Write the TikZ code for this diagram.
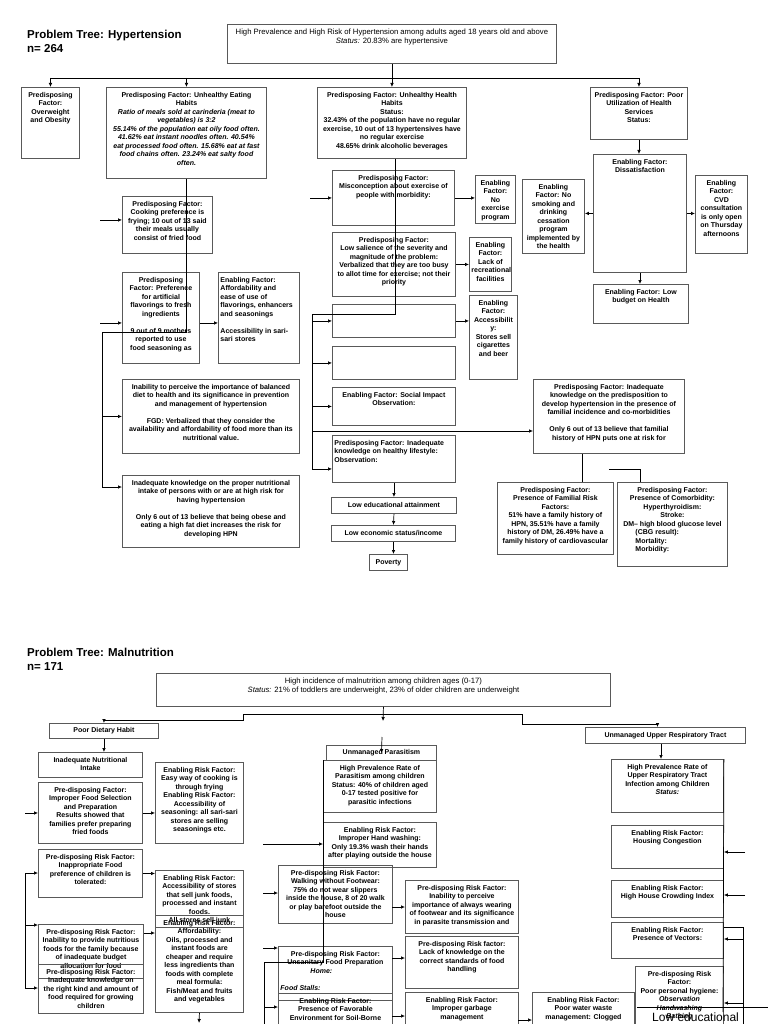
\documentclass[tikz,border=0pt]{standalone}
\usepackage{fontspec}
\setmainfont{Liberation Sans}
\usetikzlibrary{arrows.meta}
\hyphenpenalty=10000
\exhyphenpenalty=10000
\newcommand{\boxfont}{\fontsize{7}{8.5}\selectfont\bfseries}
\newcommand{\topfont}{\fontsize{7.7}{9.2}\selectfont\mdseries}
\newcommand{\boxtext}[3]{\parbox[c][\dimexpr#2pt-4pt\relax][t]{\dimexpr#1pt-4pt\relax}{\vspace*{2.5pt}\centering#3}}
\tikzset{
  pbox/.style={draw=black!65, line width=0.9pt, inner sep=2pt, anchor=north west, font=\boxfont},
  sbox/.style={draw=black!65, line width=0.9pt, inner sep=0pt, anchor=north west, font=\boxfont, align=center},
  conn/.style={line width=0.7pt},
  arr/.style={conn, -{Latex[length=4pt,width=3.6pt]}},
  heading/.style={anchor=north west, inner sep=0pt, align=left, font=\fontsize{11.5}{14}\selectfont\bfseries}
}
\begin{document}
\begin{tikzpicture}[x=1pt, y=-1pt]
    \fill[white] (0,0) rectangle (768,1024);
    \useasboundingbox (0,0) rectangle (768,1024);

    \node[heading] (ttlh) at (27,30) {Problem Tree: Hypertension\\n= 264};
    \node[pbox] (toph) at (227,24) {\boxtext{329}{39}{\topfont High Prevalence and High Risk of Hypertension among adults aged 18 years old and above\\\textit{Status:} 20.83\% are hypertensive}};
    \node[pbox] (overweight) at (21,87) {\boxtext{58}{71}{Predisposing\\Factor:\\Overweight\\and Obesity}};
    \node[pbox] (eating) at (106,87) {\boxtext{160}{91}{Predisposing Factor: Unhealthy Eating\\Habits\\\itshape Ratio of meals sold at carinderia (meat to\\vegetables) is 3:2\\55.14\% of the population eat oily food often.\\41.62\% eat instant noodles often. 40.54\%\\eat processed food often. 15.68\% eat at fast\\food chains often. 23.24\% eat salty food\\often.}};
    \node[pbox] (habits) at (317,87) {\boxtext{149}{71}{Predisposing Factor: Unhealthy Health\\Habits\\Status:\\32.43\% of the population have no regular\\exercise, 10 out of 13 hypertensives have\\no regular exercise\\48.65\% drink alcoholic beverages}};
    \node[pbox] (utilization) at (590,87) {\boxtext{97}{52}{Predisposing Factor: Poor\\Utilization of Health\\Services\\Status:}};
    \node[pbox] (dissatisfaction) at (593,154) {\boxtext{93}{118}{Enabling Factor:\\Dissatisfaction}};
    \node[pbox] (nosmoking) at (522,179) {\boxtext{62}{74}{Enabling\\Factor: No\\smoking and\\drinking\\cessation\\program\\implemented by\\the health}};
    \node[pbox] (cvd) at (695,175) {\boxtext{52}{78}{Enabling\\Factor:\\CVD\\consultation\\is only open\\on Thursday\\afternoons}};
    \node[pbox] (budget) at (593,284) {\boxtext{95}{39}{Enabling Factor: Low\\budget on Health}};
    \node[pbox] (cooking) at (122,196) {\boxtext{90}{57}{Predisposing Factor:\\Cooking preference is\\frying; 10 out of 13 said\\their meals usually\\consist of fried food}};
    \node[pbox] (flavor) at (122,272) {\boxtext{77}{91}{Predisposing\\Factor: Preference\\for artificial\\flavorings to fresh\\ingredients\\[8.5pt]9 out of 9 mothers\\reported to use\\food seasoning as}};
    \node[pbox] (afford) at (218,272) {\boxtext{81}{91}{\raggedright Enabling Factor:\\Affordability and\\ease of use of\\flavorings, enhancers\\and seasonings\\[8.5pt]Accessibility in sari-\\sari stores}};
    \node[pbox] (balanced) at (122,379) {\boxtext{177}{74}{Inability to perceive the importance of balanced\\diet to health and its significance in prevention\\and management of hypertension\\[8.5pt]FGD: Verbalized that they consider the\\availability and affordability of food more than its\\nutritional value.}};
    \node[pbox] (nutrition) at (122,475) {\boxtext{177}{72}{Inadequate knowledge on the proper nutritional\\intake of persons with or are at high risk for\\having hypertension\\[8.5pt]Only 6 out of 13 believe that being obese and\\eating a high fat diet increases the risk for\\developing HPN}};
    \node[pbox] (misconc) at (332,170) {\boxtext{122}{55}{Predisposing Factor:\\Misconception about exercise of\\people with morbidity:}};
    \node[pbox] (noexercise) at (475,175) {\boxtext{40}{48}{Enabling\\Factor:\\No\\exercise\\program}};
    \node[pbox] (salience) at (332,232) {\boxtext{123}{64}{Predisposing Factor:\\Low salience of the severity and\\magnitude of the problem:\\Verbalized that they are too busy\\to allot time for exercise; not their\\priority}};
    \node[pbox] (recreation) at (469,237) {\boxtext{42}{54}{Enabling\\Factor:\\Lack of\\recreational\\facilities}};
    \node[sbox, minimum width=123pt, minimum height=33pt] (blanka) at (332,304) {};
    \node[pbox] (accessibility) at (469,295) {\boxtext{48}{84}{Enabling\\Factor:\\Accessibilit\\y:\\Stores sell\\cigarettes\\and beer}};
    \node[sbox, minimum width=123pt, minimum height=33pt] (blankb) at (332,346) {};
    \node[pbox] (social) at (332,387) {\boxtext{123}{38}{Enabling Factor: Social Impact\\Observation:}};
    \node[pbox] (lifestyle) at (332,435) {\boxtext{123}{47}{\raggedright Predisposing Factor: Inadequate\\knowledge on healthy lifestyle:\\Observation:}};
    \node[sbox, minimum width=125pt, minimum height=16pt] (education) at (331,497) {Low educational attainment};
    \node[sbox, minimum width=124pt, minimum height=16pt] (economic) at (331,525) {Low economic status/income};
    \node[sbox, minimum width=38pt, minimum height=16pt] (poverty) at (369,554) {Poverty};
    \node[pbox] (predisposition) at (533,379) {\boxtext{151}{74}{Predisposing Factor: Inadequate\\knowledge on the predisposition to\\develop hypertension in the presence of\\familial incidence and co-morbidities\\[8.5pt]Only 6 out of 13 believe that familial\\history of HPN puts one at risk for}};
    \node[pbox] (familial) at (497,482) {\boxtext{116}{72}{Predisposing Factor:\\Presence of Familial Risk\\Factors:\\51\% have a family history of\\HPN, 35.51\% have a family\\history of DM, 26.49\% have a\\family history of cardiovascular}};
    \node[pbox] (comorbidity) at (617,482) {\boxtext{110}{84}{Predisposing Factor:\\Presence of Comorbidity:\\Hyperthyroidism:\\Stroke:\\DM-- high blood glucose level\par\raggedright\leftskip=16pt (CBG result):\\Mortality:\\Morbidity:}};

    \coordinate (splith) at (391,78);
    \draw[arr] (toph.south) -- (habits.north);
    \draw[conn] (overweight.north |- splith) -- (utilization.north |- splith);
    \draw[arr] (overweight.north |- splith) -- (overweight.north);
    \draw[arr] (eating.north |- splith) -- (eating.north);
    \draw[arr] (utilization.north |- splith) -- (utilization.north);

    \coordinate (eatj) at (102,332);
    \draw[arr] (eating.south) |- (eatj) |- ([yshift=-12pt]nutrition.north west);
    \draw[arr] (eatj |- balanced.west) -- (balanced.west);
    \draw[arr] ([xshift=-22pt,yshift=5pt]cooking.west) -- ([yshift=5pt]cooking.west);
    \draw[arr] ([xshift=-22pt,yshift=-5pt]flavor.west) -- ([yshift=-5pt]flavor.west);
    \draw[arr] ([yshift=-5pt]flavor.east) -- ([yshift=-5pt]afford.west);

    \coordinate (habj) at (312,314);
    \coordinate (longh) at (312,431);
    \draw[arr] ([xshift=3pt]habits.south) |- (habj) |- ([yshift=-10pt]lifestyle.west);
    \draw[arr] (habj |- blanka.west) -- (blanka.west);
    \draw[arr] (habj |- blankb.west) -- (blankb.west);
    \draw[arr] (habj |- social.west) -- (social.west);
    \draw[arr] (longh) -- (longh -| predisposition.west);
    \draw[arr] ([xshift=-22pt]misconc.west) -- (misconc.west);
    \draw[arr] (misconc.east) -- (misconc.east -| noexercise.west);
    \draw[arr] (salience.east) -- (salience.east -| recreation.west);
    \draw[arr] (blanka.east) -- (blanka.east -| accessibility.west);
    \draw[arr] (lifestyle.south) -- (education.north);
    \draw[arr] (education.south) -- (economic.north);
    \draw[arr] (economic.south) -- (economic.south |- poverty.north);

    \draw[arr] (utilization.south) -- (utilization.south |- dissatisfaction.north);
    \draw[arr] (dissatisfaction.west) -- (dissatisfaction.west -| nosmoking.east);
    \draw[arr] (dissatisfaction.east) -- (dissatisfaction.east -| cvd.west);
    \draw[arr] (dissatisfaction.south) -- (dissatisfaction.south |- budget.north);
    \coordinate (famtop) at (582,482);
    \coordinate (comtop) at (640,482);
    \draw[conn] (famtop |- predisposition.south) -- (famtop);
    \draw[conn] ([yshift=-15pt]predisposition.south) -| (comtop);

    \node[heading] (ttlm) at (27,648) {Problem Tree: Malnutrition\\n= 171};
    \node[pbox] (topm) at (156,673) {\boxtext{454}{33}{\topfont High incidence of malnutrition among children ages (0-17)\\\textit{Status:} 21\% of toddlers are underweight, 23\% of older children are underweight}};
    \node[sbox, minimum width=109pt, minimum height=15pt] (dietary) at (49,723) {Poor Dietary Habit};
    \node[sbox, minimum width=110pt, minimum height=15pt] (parasitism) at (326,745) {Unmanaged Parasitism};
    \node[sbox, minimum width=160pt, minimum height=16pt] (respiratory) at (585,727) {Unmanaged Upper Respiratory Tract};
    \node[pbox] (intake) at (38,752) {\boxtext{104}{25}{Inadequate Nutritional\\Intake}};
    \node[pbox] (selection) at (38,782) {\boxtext{104}{61}{Pre-disposing Factor:\\Improper Food Selection\\and Preparation\\Results showed that\\families prefer preparing\\fried foods}};
    \node[pbox] (easyway) at (155,762) {\boxtext{88}{81}{Enabling Risk Factor:\\Easy way of cooking is\\through frying\\Enabling Risk Factor:\\Accessibility of\\seasoning: all sari-sari\\stores are selling\\seasonings etc.}};
    \node[pbox] (preference) at (38,849) {\boxtext{104}{48}{Pre-disposing Risk Factor:\\Inappropriate Food\\preference of children is\\tolerated:}};
    \node[pbox] (junkfood) at (155,870) {\boxtext{88}{57}{Enabling Risk Factor:\\Accessibility of stores\\that sell junk foods,\\processed and instant\\foods.\\All stores sell junk}};
    \node[pbox] (affordability) at (155,915) {\boxtext{88}{97}{Enabling Risk Factor:\\Affordability:\\Oils, processed and\\instant foods are\\cheaper and require\\less ingredients than\\foods with complete\\meal formula:\\Fish/Meat and fruits\\and vegetables}};
    \node[pbox] (budgetalloc) at (38,924) {\boxtext{105}{54}{Pre-disposing Risk Factor:\\Inability to provide nutritious\\foods for the family because\\of inadequate budget\\allocation for food}};
    \node[pbox] (knowledge) at (38,964) {\boxtext{105}{49}{Pre-disposing Risk Factor:\\Inadequate knowledge on\\the right kind and amount of\\food required for growing\\children}};
    \node[pbox] (prevalence) at (323,760) {\boxtext{113}{52}{High Prevalence Rate of\\Parasitism among children\\Status: 40\% of children aged\\0-17 tested positive for\\parasitic infections}};
    \node[pbox] (handwash) at (323,822) {\boxtext{113}{45}{Enabling Risk Factor:\\Improper Hand washing:\\Only 19.3\% wash their hands\\after playing outside the house}};
    \node[pbox] (footwear) at (278,865) {\boxtext{114}{58}{Pre-disposing Risk Factor:\\Walking without Footwear:\\75\% do not wear slippers\\inside the house, 8 of 20 walk\\or play barefoot outside the\\house}};
    \node[pbox] (wearing) at (405,880) {\boxtext{113}{53}{Pre-disposing Risk Factor:\\Inability to perceive\\importance of always wearing\\of footwear and its significance\\in parasite transmission and}};
    \node[pbox] (unsanitary) at (278,946) {\boxtext{114}{54}{Pre-disposing Risk Factor:\\Unsanitary Food Preparation\par\raggedright\hspace*{30pt}\textit{Home:}\\[8.5pt]\textit{Food Stalls:}}};
    \node[pbox] (handling) at (405,936) {\boxtext{113}{52}{Pre-disposing Risk factor:\\Lack of knowledge on the\\correct standards of food\\handling}};
    \node[pbox] (favorable) at (278,993) {\boxtext{114}{40}{Enabling Risk Factor:\\Presence of Favorable\\Environment for Soil-Borne}};
    \node[pbox] (garbage) at (405,992) {\boxtext{113}{40}{Enabling Risk Factor:\\Improper garbage\\management}};
    \node[pbox] (waste) at (532,992) {\boxtext{102}{40}{Enabling Risk Factor:\\Poor water waste\\management: Clogged}};
    \node[pbox] (urti) at (611,759) {\boxtext{112}{53}{High Prevalence Rate of\\Upper Respiratory Tract\\Infection among Children\\\textit{Status:}}};
    \node[pbox] (congestion) at (611,825) {\boxtext{112}{43}{Enabling Risk Factor:\\Housing Congestion}};
    \node[pbox] (crowding) at (611,880) {\boxtext{112}{37}{Enabling Risk Factor:\\High House Crowding Index}};
    \node[pbox] (vectors) at (611,922) {\boxtext{112}{36}{Enabling Risk Factor:\\Presence of Vectors:}};
    \node[pbox] (hygiene) at (635,966) {\boxtext{88}{64}{Pre-disposing Risk\\Factor:\\Poor personal hygiene:\\\textit{Observation}\\\textit{Handwashing}\\\textit{Bathing}}};
    \node[anchor=west, inner sep=0pt, font=\fontsize{12}{14}\selectfont] (loweduc) at (652,1017) {Low educational};

    \coordinate (msplitl) at (243,714);
    \coordinate (msplitr) at (522,714);
    \coordinate (mdown) at (383,721);
    \coordinate (pdown) at (382,737);
    \draw[conn] (msplitl) -- (msplitr);
    \draw[arr] (msplitl) -- ++(0,6) -| (dietary.north);
    \draw[arr] (msplitr) -- ++(0,10) -| ([xshift=-8pt]respiratory.north);
    \draw[arr] (topm.south) -- (mdown);
    \draw[arr] (pdown) -- ([yshift=-8pt]parasitism.north);

    \draw[arr] (dietary.south) -- (dietary.south |- intake.north);
    \draw[arr] ([xshift=-13pt]selection.west) -- (selection.west);
    \draw[arr] (selection.east) -- (selection.east -| easyway.west);
    \draw[arr] (preference.east) -- (preference.east -| junkfood.west);
    \coordinate (ia) at ([yshift=-9pt]budgetalloc.north east);
    \draw[arr] (ia) -- (ia -| affordability.west);
    \coordinate (afend) at (199,1023);
    \draw[arr] (affordability.south) -- (afend);
    \coordinate (lbt) at (25,873);
    \coordinate (lbm) at (25,925);
    \coordinate (lbb) at (25,988);
    \draw[conn] (lbt) -- (lbb);
    \draw[arr] (lbt) -- (lbt -| preference.west);
    \draw[arr] (lbm) -- (lbm -| budgetalloc.west);
    \draw[arr] (lbb) -- (lbb -| knowledge.west);

    \coordinate (hws) at (263,844);
    \coordinate (pj) at (264,962);
    \coordinate (pend) at (264,1030);
    \coordinate (pf) at (264,1007);
    \coordinate (fws) at (263,893);
    \coordinate (uss) at (263,948);
    \draw[arr] (hws) -- (hws -| handwash.west);
    \draw[conn] (prevalence.north west) |- (pj) -- (pend);
    \draw[arr] (pf) -- (pf -| favorable.west);
    \draw[arr] (fws) -- (fws -| footwear.west);
    \draw[arr] (uss) -- (uss -| unsanitary.west);
    \coordinate (fw) at (392,907);
    \coordinate (ul) at (392,958);
    \coordinate (fg) at (392,1016);
    \coordinate (gw) at (518,1020);
    \draw[arr] (fw) -- (fw -| wearing.west);
    \draw[arr] (ul) -- (ul -| handling.west);
    \draw[arr] (fg) -- (fg -| garbage.west);
    \draw[arr] (gw) -- (gw -| waste.west);

    \coordinate (rt) at (661,759);
    \coordinate (rv) at (723,1012);
    \draw[arr] (rt |- respiratory.south) -- (rt);
    \draw[conn] (urti.north east) -- (rv);
    \coordinate (cs) at (745,852);
    \coordinate (crs) at (745,895);
    \coordinate (vb) at (743,927);
    \coordinate (vend) at (743,1030);
    \coordinate (vs) at (743,939);
    \coordinate (hs) at (743,1003);
    \coordinate (hla) at (637,1007);
    \coordinate (hlb) at (768,1007);
    \draw[arr] (cs) -- (cs -| congestion.east);
    \draw[arr] (crs) -- (crs -| crowding.east);
    \draw[conn] (vb -| vectors.east) -- (vb) -- (vend);
    \draw[arr] (vs) -- (vs -| vectors.east);
    \draw[arr] (hs) -- (hs -| hygiene.east);
    \draw[conn] (hla) -- (hlb);
\end{tikzpicture}
\end{document}
